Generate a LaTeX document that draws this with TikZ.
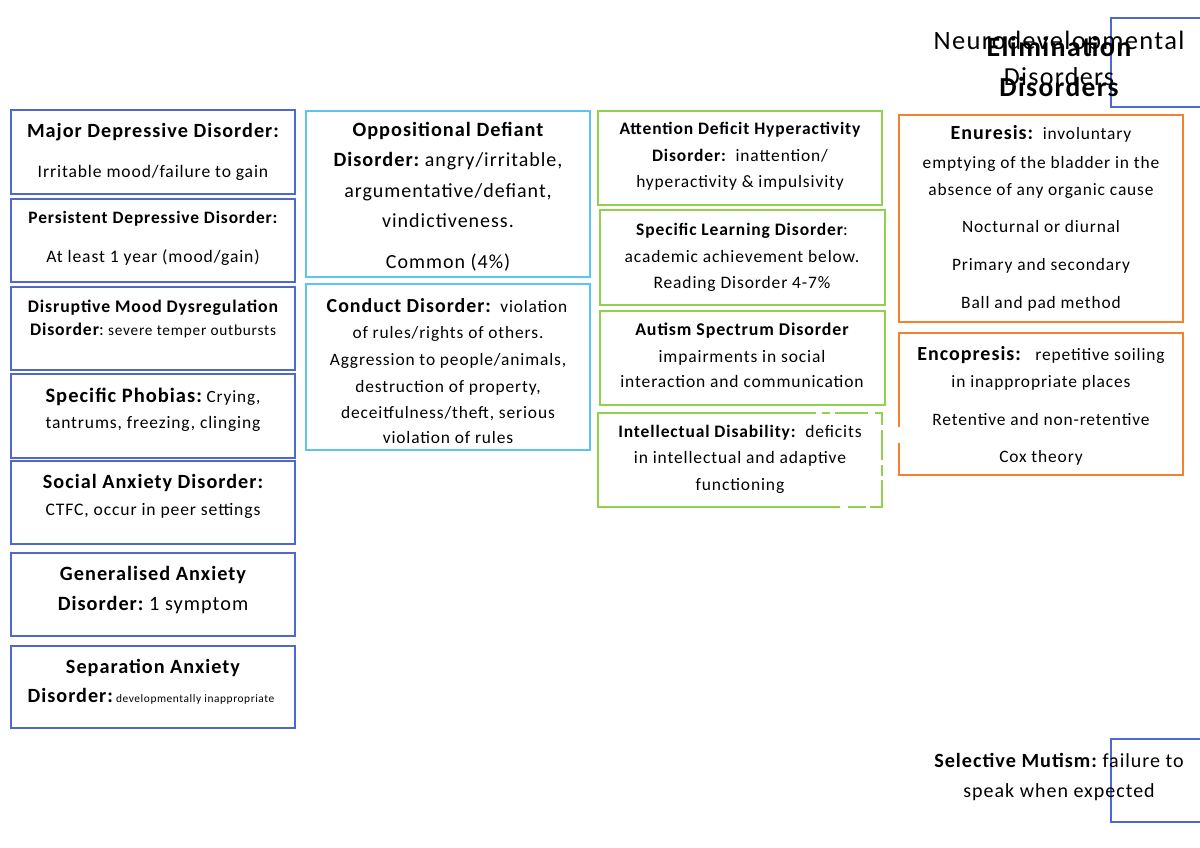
\documentclass[tikz,border=0pt]{standalone}
\usepackage{fontspec}
\setmainfont{Carlito}[LetterSpace=5]
\definecolor{cblue}{RGB}{78,104,207}
\definecolor{ccyan}{RGB}{91,196,241}
\definecolor{cgreen}{RGB}{146,208,80}
\definecolor{corange}{RGB}{244,128,48}
\newcommand\txb[2]{{\fontsize{#1}{#1}\selectfont\bfseries #2}}
\newcommand\txr[2]{{\fontsize{#1}{#1}\selectfont #2}}
\newcommand\mybox[6]{\node[diagbox, draw=#2, minimum width={(#5-#3)*1pt}, minimum height={(#6-#4)*1pt}] (#1) at (#3,#4) {};}
\newcommand\myline[4]{\node[linetext] (#1) at (#2,#3) {#4};}
\tikzset{
  diagbox/.style={line width=1.8pt, inner sep=0pt, outer sep=0pt, anchor=north west},
  linetext/.style={anchor=base, inner sep=0pt, outer sep=0pt, text=black},
  gap/.style={fill=white, draw=none}
}
\begin{document}
\begin{tikzpicture}[x=1pt,y=-1pt]
\useasboundingbox (0,0) rectangle (1200,848);
\fill[white] (0,0) rectangle (1200,848);
% ---------- column 1 ----------
\mybox{mdd}{cblue}{11}{110}{295}{194}
\mybox{pdd}{cblue}{11}{199}{295}{282}
\mybox{dmdd}{cblue}{11}{287}{295}{370}
\mybox{sp}{cblue}{11}{374}{295}{458}
\mybox{sad}{cblue}{11}{461}{295}{544}
\mybox{gad}{cblue}{11}{553}{295}{636}
\mybox{sepad}{cblue}{11}{646}{295}{728}
\myline{a1}{153}{138}{\txb{20.2}{Major Depressive Disorder:}}
\myline{a2}{153}{178}{\txr{17.6}{Irritable mood/failure to gain}}
\myline{b1}{153}{223}{\txb{17.4}{Persistent Depressive Disorder:}}
\myline{b2}{153}{262}{\txr{17.6}{At least 1 year (mood/gain)}}
\myline{c1}{153}{312}{\txb{17.7}{Disruptive Mood Dysregulation}}
\myline{c2}{153}{335}{\txb{17.7}{Disorder}\txr{17.7}{:}\txr{15.3}{\ severe temper outbursts}}
\myline{d1}{153}{402}{\txb{20.5}{Specific Phobias:}\txr{17.2}{\ Crying,}}
\myline{d2}{153}{428}{\txr{17.5}{tantrums, freezing, clinging}}
\myline{e1}{153}{488}{\txb{20.2}{Social Anxiety Disorder:}}
\myline{e2}{153}{515}{\txr{17.6}{CTFC, occur in peer settings}}
\myline{f1}{153}{580}{\txb{20.3}{Generalised Anxiety}}
\myline{f2}{153}{610}{\txb{20.3}{Disorder:}\txr{20.3}{\ 1 symptom}}
\myline{g1}{153}{673}{\txb{20.2}{Separation Anxiety}}
\myline{g2}{151}{702}{\txb{20.2}{Disorder:}\txr{11.4}{\ developmentally inappropriate}}
% ---------- column 2 ----------
\mybox{odd}{ccyan}{306}{111}{590}{277}
\mybox{cd}{ccyan}{306}{284}{590}{450}
\myline{h1}{448}{137}{\txb{20.3}{Oppositional Defiant}}
\myline{h2}{448}{167}{\txb{20.3}{Disorder:}\txr{20}{\ angry/irritable,}}
\myline{h3}{448}{197}{\txr{20}{argumentative/defiant,}}
\myline{h4}{448}{227}{\txr{20}{vindictiveness.}}
\myline{h5}{448}{268}{\txr{20}{Common (4\%)}}
\myline{i1}{447}{312}{\txb{19.9}{Conduct Disorder:}\txr{17.3}{\ \ violation}}
\myline{i2}{448}{338}{\txr{17.4}{of rules/rights of others.}}
\myline{i3}{448}{365}{\txr{17.4}{Aggression to people/animals,}}
\myline{i4}{448}{392}{\txr{17.4}{destruction of property,}}
\myline{i5}{448}{418}{\txr{17.4}{deceitfulness/theft, serious}}
\myline{i6}{448}{443}{\txr{17.4}{violation of rules}}
% ---------- column 3 ----------
\mybox{adhd}{cgreen}{598}{111}{882}{205}
\mybox{sld}{cgreen}{600}{210}{885}{305}
\mybox{asd}{cgreen}{600}{311}{885}{405}
\mybox{id}{cgreen}{598}{413}{882}{507}
\myline{j1}{740}{135}{\txb{17.5}{Attention Deficit Hyperactivity}}
\myline{j2}{740}{162}{\txb{17.5}{Disorder:}\txr{17.4}{\ \ inattention/}}
\myline{j3}{740}{188}{\txr{17.4}{hyperactivity \& impulsivity}}
\myline{k1}{742}{235}{\txb{17.5}{Specific Learning Disorder}\txr{17.5}{:}}
\myline{k2}{742}{262}{\txr{17.5}{academic achievement below.}}
\myline{k3}{742}{288}{\txr{17.5}{Reading Disorder 4-7\%}}
\myline{l1}{742}{335}{\txb{17.9}{Autism Spectrum Disorder}}
\myline{l2}{742}{362}{\txr{17.5}{impairments in social}}
\myline{l3}{742}{387}{\txr{17.5}{interaction and communication}}
\myline{m1}{740}{437}{\txb{17.5}{Intellectual Disability:}\txr{17.5}{\ \ deficits}}
\myline{m2}{740}{463}{\txr{17.5}{in intellectual and adaptive}}
\myline{m3}{740}{490}{\txr{17.5}{functioning}}
% ---------- column 4 ----------
\mybox{enu}{corange}{899}{115}{1183}{322}
\mybox{enc}{corange}{899}{333}{1183}{475}
\myline{n1}{1041}{140}{\txb{20}{Enuresis:}\txr{17.4}{\ \ involuntary}}
\myline{n2}{1041}{168}{\txr{17.4}{emptying of the bladder in the}}
\myline{n3}{1041}{195}{\txr{17.4}{absence of any organic cause}}
\myline{n4}{1041}{233}{\txr{17.4}{Nocturnal or diurnal}}
\myline{n5}{1041}{270}{\txr{17.4}{Primary and secondary}}
\myline{n6}{1041}{308}{\txr{17.4}{Ball and pad method}}
\myline{o1}{1041}{360}{\txb{20}{Encopresis:}\txr{17.4}{\ \ \ repetitive soiling}}
\myline{o2}{1041}{387}{\txr{17.4}{in inappropriate places}}
\myline{o3}{1041}{425}{\txr{17.4}{Retentive and non-retentive}}
\myline{o4}{1041}{462}{\txr{17.4}{Cox theory}}
% white gaps in borders
\fill[gap] (816,410) rectangle (822,416);
\fill[gap] (830,410) rectangle (835,416);
\fill[gap] (868,410) rectangle (875,416);
\fill[gap] (879,425) rectangle (885,430);
\fill[gap] (879,460) rectangle (885,465);
\fill[gap] (879,476) rectangle (885,480);
\fill[gap] (840,504) rectangle (848,510);
\fill[gap] (866,504) rectangle (870,510);
\fill[gap] (896,427) rectangle (902,443);
% ---------- right-hand blue frames ----------
\begin{scope}
\clip (0,0) rectangle (1200,848);
\mybox{topframe}{cblue}{1111}{18}{1215}{107}
\mybox{botframe}{cblue}{1111}{739}{1215}{822}
\end{scope}
% headings
\myline{t1}{1059}{49.5}{\txr{26.5}{Neurodevelopmental}}
\myline{t2}{1059}{86}{\txr{26}{Disorders}}
\myline{t3}{1059}{57}{\txb{28}{Elimination}}
\myline{t4}{1059}{96.5}{\txb{27.5}{Disorders}}
% selective mutism
\myline{s1}{1059}{767}{\txb{20.2}{Selective Mutism:}\txr{20}{\ failure to}}
\myline{s2}{1059}{797}{\txr{20}{speak when expected}}
\end{tikzpicture}
\end{document}
